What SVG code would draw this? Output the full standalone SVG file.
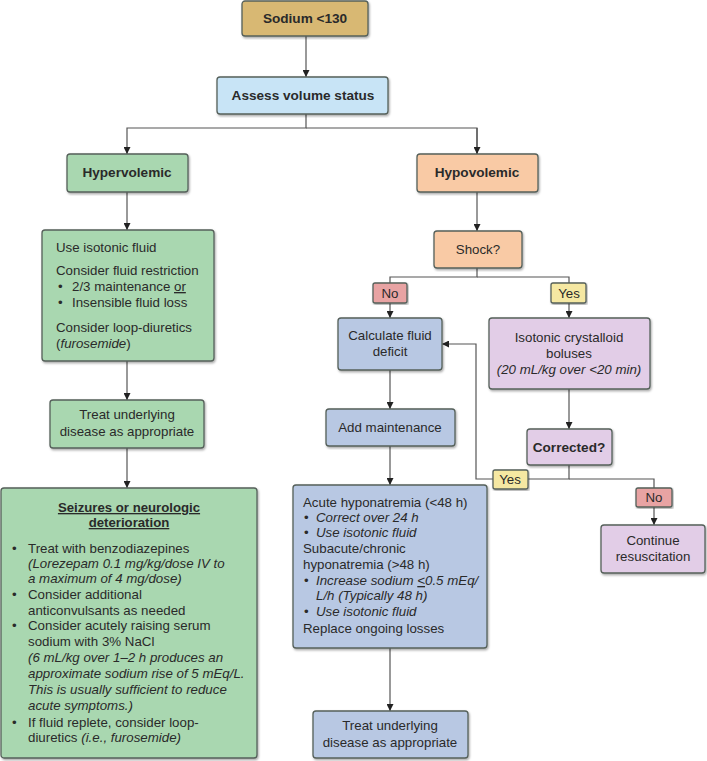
<svg xmlns="http://www.w3.org/2000/svg" width="707" height="761" viewBox="0 0 707 761">
<defs>
<marker id="ah" viewBox="0 0 10 10" refX="10" refY="5" markerWidth="7" markerHeight="7" orient="auto" markerUnits="userSpaceOnUse">
<path d="M0,0 L10,5 L0,10 z" fill="#222"/>
</marker>
<filter id="sh" x="-5%" y="-5%" width="110%" height="115%">
<feDropShadow dx="1" dy="1.5" stdDeviation="0.8" flood-color="#000" flood-opacity="0.35"/>
</filter>
</defs>
<style>
rect.n{stroke:#55605a;stroke-width:1.3;filter:url(#sh)}
.tan{fill:#d8b873}.lb{fill:#c8e4f6}.gr{fill:#a9d7b0}.or{fill:#f9caa5}.bl{fill:#b8c8e3}.pu{fill:#e2cde7}.pk{fill:#e8a3a3}.ye{fill:#f5e8a2}
text{font-family:"Liberation Sans",Arial,sans-serif;font-size:13.3px;fill:#2a2a2a}
.b{font-weight:bold;font-size:13.6px}
.c{text-anchor:middle}
.i{font-style:italic}
.cl{fill:none;stroke:#555;stroke-width:1.2}
</style>
<g id="connectors">
<line class="cl" x1="306" y1="36" x2="306" y2="77" marker-end="url(#ah)"/>
<polyline class="cl" points="306,114 306,128 127,128 127,154" marker-end="url(#ah)"/>
<polyline class="cl" points="306,128 477,128 477,154"/>
<line class="cl" x1="477" y1="128" x2="477" y2="154" marker-end="url(#ah)"/>
<line class="cl" x1="127" y1="192" x2="127" y2="230" marker-end="url(#ah)"/>
<line class="cl" x1="127" y1="361" x2="127" y2="400" marker-end="url(#ah)"/>
<line class="cl" x1="127" y1="448" x2="127" y2="488" marker-end="url(#ah)"/>
<line class="cl" x1="477" y1="192" x2="477" y2="231" marker-end="url(#ah)"/>
<polyline class="cl" points="477,268 477,277 390,277 390,283"/>
<polyline class="cl" points="477,277 569,277 569,283"/>
<line class="cl" x1="390" y1="303" x2="390" y2="318" marker-end="url(#ah)"/>
<line class="cl" x1="569" y1="303" x2="569" y2="318" marker-end="url(#ah)"/>
<line class="cl" x1="569" y1="389" x2="569" y2="429" marker-end="url(#ah)"/>
<line class="cl" x1="390" y1="370" x2="390" y2="409" marker-end="url(#ah)"/>
<line class="cl" x1="390" y1="446" x2="390" y2="485" marker-end="url(#ah)"/>
<line class="cl" x1="390" y1="648" x2="390" y2="711" marker-end="url(#ah)"/>
<polyline class="cl" points="569,465 569,479 476,479 476,344 442,344" marker-end="url(#ah)"/>
<polyline class="cl" points="569,479 654,479 654,488"/>
<line class="cl" x1="654" y1="507" x2="654" y2="525" marker-end="url(#ah)"/>
</g>
<g id="sodium"><rect class="n tan" x="242" y="1" width="126" height="35" rx="3"/><text class="b c" x="305" y="23">Sodium &lt;130</text></g>
<g id="assess"><rect class="n lb" x="217" y="77" width="171" height="37" rx="3"/><text class="b c" x="303" y="100">Assess volume status</text></g>
<g id="hypervolemic"><rect class="n gr" x="67" y="154" width="121" height="38" rx="3"/><text class="b c" x="127" y="177">Hypervolemic</text></g>
<g id="isotonic-left"><rect class="n gr" x="42" y="230" width="172" height="131" rx="3"/>
<text x="56" y="252">Use isotonic fluid</text>
<text x="56" y="275">Consider fluid restriction</text>
<text x="58" y="291">•</text><text x="72" y="291">2/3 maintenance <tspan text-decoration="underline">or</tspan></text>
<text x="58" y="307">•</text><text x="72" y="307">Insensible fluid loss</text>
<text x="56" y="332">Consider loop-diuretics</text>
<text x="56" y="348">(<tspan class="i">furosemide</tspan>)</text>
</g>
<g id="treat-left"><rect class="n gr" x="50" y="400" width="154" height="48" rx="3"/><text class="c" x="127" y="419">Treat underlying</text><text class="c" x="127" y="436">disease as appropriate</text></g>
<g id="seizures"><rect class="n gr" x="1" y="488" width="256" height="270" rx="3"/>
<text class="b c" x="129" y="512" text-decoration="underline" style="font-size:13.2px">Seizures or neurologic</text>
<text class="b c" x="129" y="527" text-decoration="underline" style="font-size:13.2px">deterioration</text>
<text x="12" y="553">•</text><text x="28" y="553">Treat with benzodiazepines</text>
<text class="i" x="28" y="568">(Lorezepam 0.1 mg/kg/dose IV to</text>
<text class="i" x="28" y="583">a maximum of 4 mg/dose)</text>
<text x="12" y="599">•</text><text x="28" y="599">Consider additional</text>
<text x="28" y="615">anticonvulsants as needed</text>
<text x="12" y="630">•</text><text x="28" y="630">Consider acutely raising serum</text>
<text x="28" y="646">sodium with 3% NaCl</text>
<text class="i" x="28" y="662">(6 mL/kg over 1–2 h produces an</text>
<text class="i" x="28" y="678">approximate sodium rise of 5 mEq/L.</text>
<text class="i" x="28" y="694">This is usually sufficient to reduce</text>
<text class="i" x="28" y="710">acute symptoms.)</text>
<text x="12" y="727">•</text><text x="28" y="727">If fluid replete, consider loop-</text>
<text x="28" y="742">diuretics <tspan class="i">(i.e., furosemide)</tspan></text>
</g>
<g id="hypovolemic"><rect class="n or" x="417" y="154" width="121" height="38" rx="3"/><text class="b c" x="477" y="177">Hypovolemic</text></g>
<g id="shock"><rect class="n or" x="434" y="231" width="88" height="37" rx="3"/><text class="c" x="478" y="254">Shock?</text></g>
<g id="no-label"><rect class="n pk" x="373" y="283" width="34" height="20" rx="2"/><text class="c" x="390" y="298">No</text></g>
<g id="yes-label"><rect class="n ye" x="551" y="283" width="35" height="20" rx="2"/><text class="c" x="569" y="298">Yes</text></g>
<g id="calculate"><rect class="n bl" x="338" y="318" width="104" height="52" rx="3"/><text class="c" x="390" y="340">Calculate fluid</text><text class="c" x="390" y="356">deficit</text></g>
<g id="boluses"><rect class="n pu" x="489" y="318" width="161" height="71" rx="3"/><text class="c" x="569" y="342">Isotonic crystalloid</text><text class="c" x="569" y="358">boluses</text><text class="c i" x="569" y="374">(20 mL/kg over &lt;20 min)</text></g>
<g id="maintenance"><rect class="n bl" x="326" y="409" width="129" height="37" rx="3"/><text class="c" x="390" y="432">Add maintenance</text></g>
<g id="corrected"><rect class="n pu" x="527" y="429" width="85" height="36" rx="3"/><text class="b c" x="569" y="452">Corrected?</text></g>
<g id="yes-label-2"><rect class="n ye" x="493" y="470" width="35" height="19" rx="2"/><text class="c" x="510" y="484">Yes</text></g>
<g id="no-label-2"><rect class="n pk" x="636" y="488" width="36" height="19" rx="2"/><text class="c" x="654" y="502">No</text></g>
<g id="continue"><rect class="n pu" x="601" y="525" width="104" height="48" rx="3"/><text class="c" x="653" y="545">Continue</text><text class="c" x="653" y="561">resuscitation</text></g>
<g id="acute"><rect class="n bl" x="293" y="485" width="194" height="163" rx="3"/>
<text x="303" y="507">Acute hyponatremia (&lt;48 h)</text>
<text x="304" y="522">•</text><text class="i" x="316" y="522">Correct over 24 h</text>
<text x="304" y="537">•</text><text class="i" x="316" y="537">Use isotonic fluid</text>
<text x="303" y="553">Subacute/chronic</text>
<text x="303" y="569">hyponatremia (&gt;48 h)</text>
<text x="304" y="585">•</text><text class="i" x="316" y="585">Increase sodium <tspan text-decoration="underline">&lt;</tspan>0.5 mEq/</text>
<text class="i" x="316" y="600">L/h (Typically 48 h)</text>
<text x="304" y="616">•</text><text class="i" x="316" y="616">Use isotonic fluid</text>
<text x="303" y="633">Replace ongoing losses</text>
</g>
<g id="treat-right"><rect class="n bl" x="313" y="711" width="155" height="47" rx="3"/><text class="c" x="390" y="730">Treat underlying</text><text class="c" x="390" y="747">disease as appropriate</text></g>
</svg>
